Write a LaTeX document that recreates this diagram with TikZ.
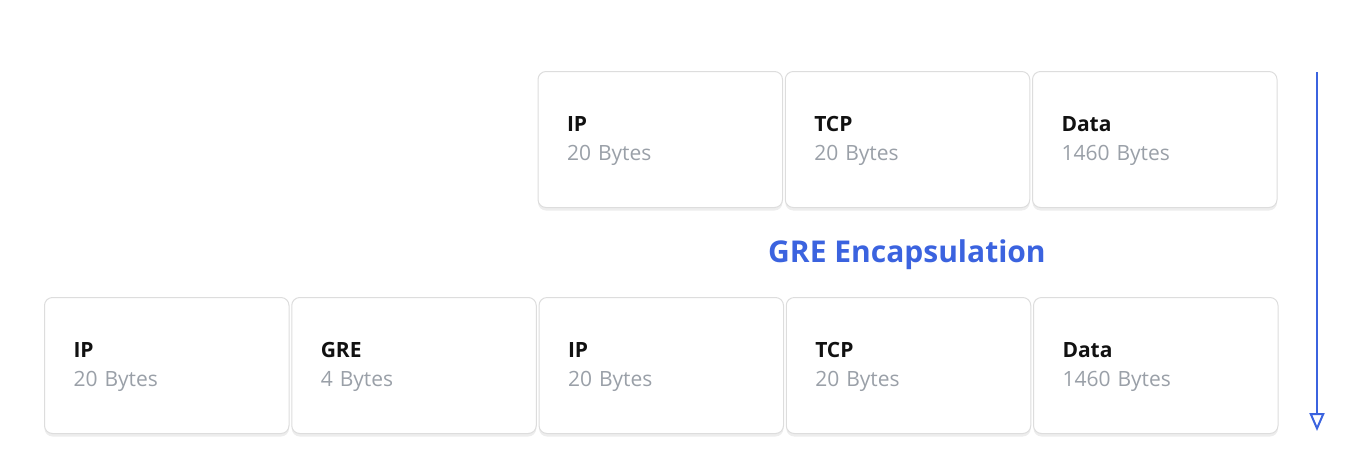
\documentclass[tikz,border=0pt]{standalone}
\usepackage{fontspec}
\setmainfont{Open Sans}
\usetikzlibrary{positioning,arrows.meta,shadows}
\definecolor{azul}{HTML}{3B63DF}
\definecolor{borde}{HTML}{DDDDDD}
\definecolor{gris}{HTML}{9AA0A8}
\definecolor{negro}{HTML}{111111}
\tikzset{
	caja/.style={draw=borde, line width=1pt, fill=white, rounded corners=8pt,
		minimum height=136pt, text width=186.5pt, inner xsep=29pt, inner ysep=0pt,
		align=left, font=\fontsize{21}{29}\selectfont, text=negro,
		drop shadow={shadow xshift=0pt, shadow yshift=-3pt, opacity=0.07, fill=black}},
	flecha/.style={azul, line width=2pt, -{Triangle[open, width=15pt, length=18pt]}},
}
\newcommand{\campo}[2]{\rule{0pt}{19pt}\textbf{#1}\\\textcolor{gris}{#2}}
\begin{document}
\begin{tikzpicture}[x=1pt, y=-1pt, node distance=1.75pt]
	\useasboundingbox (0,0) rectangle (1368,472);
	
	% Paquete original arriba
	\node[caja, anchor=north west] (ipA) at (537.5,71) {\campo{IP}{20 Bytes}};
	\node[caja, right=of ipA] (tcpA) {\campo{TCP}{20 Bytes}};
	\node[caja, right=of tcpA] (dataA) {\campo{Data}{1460 Bytes}};
	
	% Titulo entre las dos filas
	\node[font=\bfseries\fontsize{30}{36}\selectfont, text=azul, anchor=base] (titulo) at (907,262) {GRE Encapsulation};
	
	% Paquete encapsulado abajo
	\node[caja, anchor=north west] (ipB) at (44,297) {\campo{IP}{20 Bytes}};
	\node[caja, right=of ipB] (greB) {\campo{GRE}{4 Bytes}};
	\node[caja, right=of greB] (ipinB) {\campo{IP}{20 Bytes}};
	\node[caja, right=of ipinB] (tcpB) {\campo{TCP}{20 Bytes}};
	\node[caja, right=of tcpB] (dataB) {\campo{Data}{1460 Bytes}};
	
	% Flecha a la derecha
	\coordinate (ini) at (1317,72);
	\coordinate (fin) at (1317,431);
	\draw[flecha] (ini) -- (fin);
\end{tikzpicture}
\end{document}
